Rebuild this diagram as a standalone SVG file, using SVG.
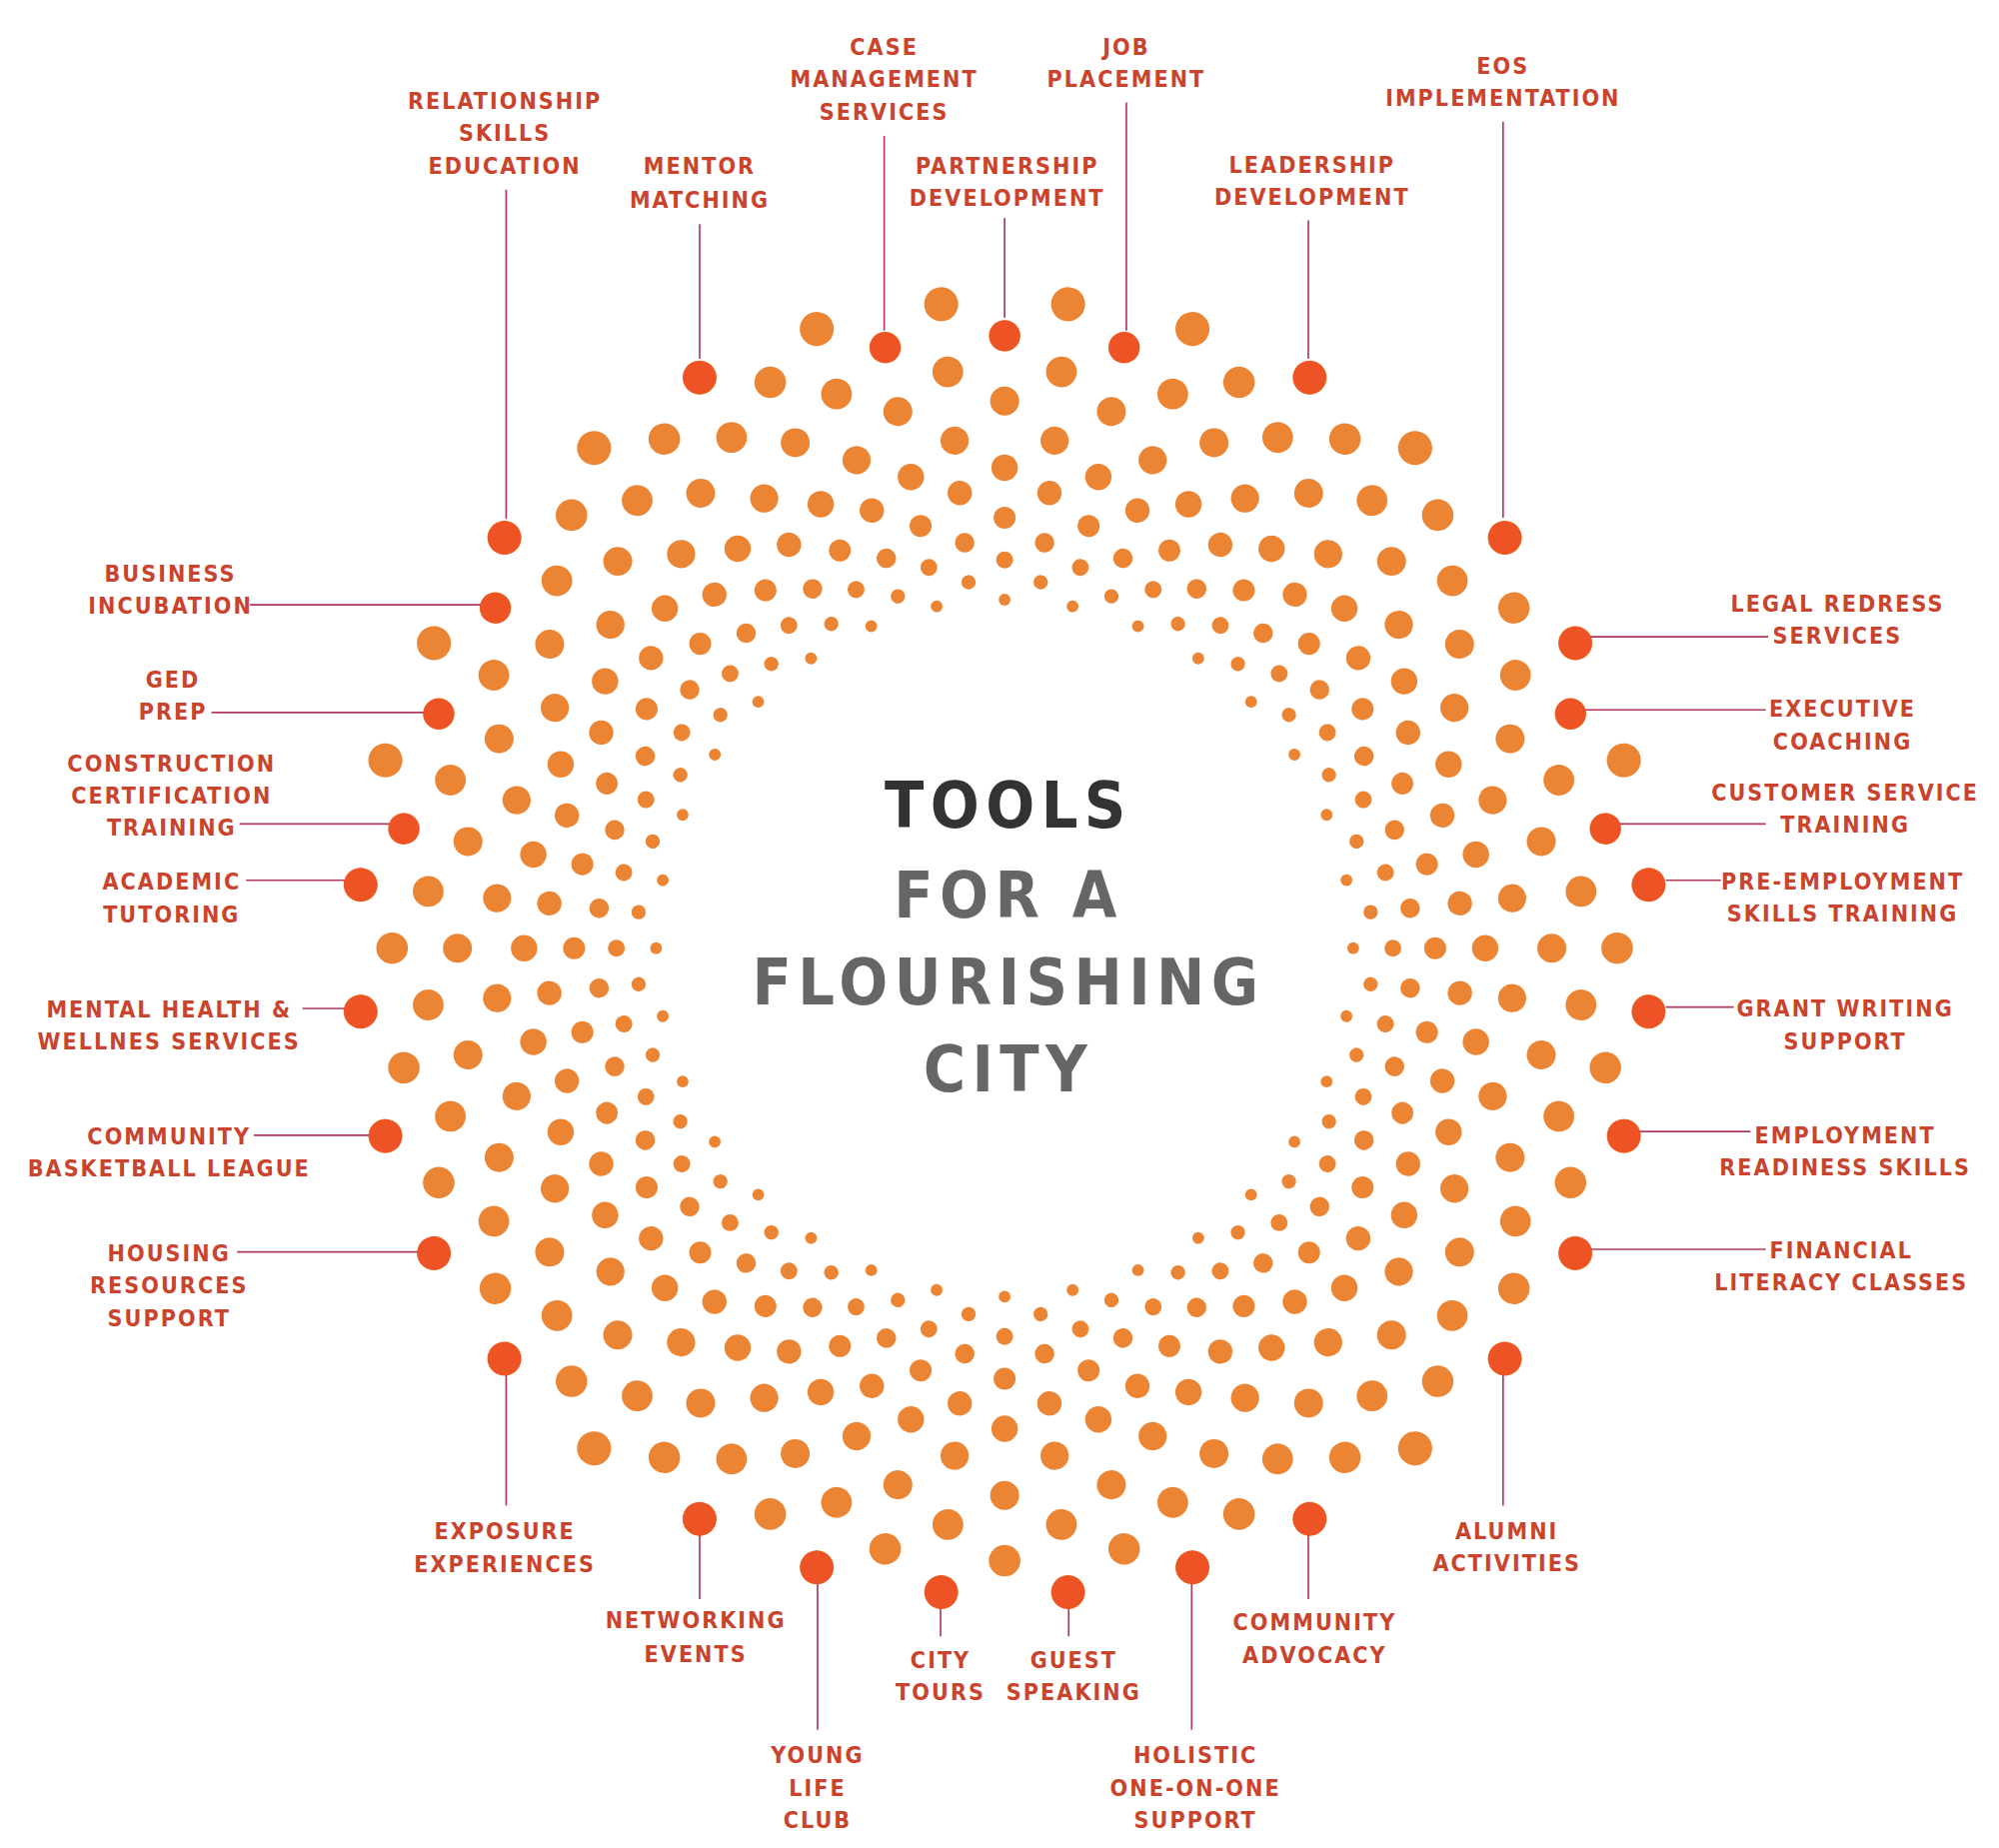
<svg xmlns="http://www.w3.org/2000/svg" xmlns:xlink="http://www.w3.org/1999/xlink" width="2000" height="1849" viewBox="0 0 2000 1849">
<style>
.o{fill:#eb8433}
.r{fill:#ee5326}
.t{font-family:"DejaVu Sans Condensed","DejaVu Sans",sans-serif;font-weight:bold;font-size:18px;letter-spacing:1.6px;fill:#c9432d;text-anchor:middle}
.h{font-family:"DejaVu Sans Condensed","DejaVu Sans",sans-serif;font-weight:bold;font-size:50px;letter-spacing:5px;text-anchor:middle}
#connectors line{stroke:#b03a5b;stroke-width:1.3}
</style>
<defs>
<g id="sa" class="o">
<circle cx="0" cy="-478" r="12.3"/><circle cx="0" cy="-427" r="11.3"/><circle cx="0" cy="-375" r="10.3"/><circle cx="0" cy="-336" r="8.6"/><circle cx="0" cy="-303" r="6.6"/><circle cx="0" cy="-272" r="4.6"/>
</g>
<g id="sb" class="o">
<circle cx="0" cy="-505" r="13.3"/><circle cx="0" cy="-452" r="12"/><circle cx="0" cy="-398" r="11"/><circle cx="0" cy="-357" r="9.5"/><circle cx="0" cy="-318" r="7.6"/><circle cx="0" cy="-287" r="5.6"/>
</g>
<circle id="ra" class="r" cx="0" cy="-478" r="12"/>
<circle id="rb" class="r" cx="0" cy="-505" r="13"/>
</defs>
<rect width="2000" height="1849" fill="#ffffff"/>
<g transform="scale(1.28205)">
<g id="dots" transform="translate(784 740)">
<use xlink:href="#sa" transform="rotate(0)"/><use xlink:href="#sa" transform="rotate(11.25)"/><use xlink:href="#sa" transform="rotate(22.5)"/><use xlink:href="#sa" transform="rotate(33.75)"/><use xlink:href="#sa" transform="rotate(45)"/><use xlink:href="#sa" transform="rotate(56.25)"/><use xlink:href="#sa" transform="rotate(67.5)"/><use xlink:href="#sa" transform="rotate(78.75)"/><use xlink:href="#sa" transform="rotate(90)"/><use xlink:href="#sa" transform="rotate(101.25)"/><use xlink:href="#sa" transform="rotate(112.5)"/><use xlink:href="#sa" transform="rotate(123.75)"/><use xlink:href="#sa" transform="rotate(135)"/><use xlink:href="#sa" transform="rotate(146.25)"/><use xlink:href="#sa" transform="rotate(157.5)"/><use xlink:href="#sa" transform="rotate(168.75)"/><use xlink:href="#sa" transform="rotate(180)"/><use xlink:href="#sa" transform="rotate(191.25)"/><use xlink:href="#sa" transform="rotate(202.5)"/><use xlink:href="#sa" transform="rotate(213.75)"/><use xlink:href="#sa" transform="rotate(225)"/><use xlink:href="#sa" transform="rotate(236.25)"/><use xlink:href="#sa" transform="rotate(247.5)"/><use xlink:href="#sa" transform="rotate(258.75)"/><use xlink:href="#sa" transform="rotate(270)"/><use xlink:href="#sa" transform="rotate(281.25)"/><use xlink:href="#sa" transform="rotate(292.5)"/><use xlink:href="#sa" transform="rotate(303.75)"/><use xlink:href="#sa" transform="rotate(315)"/><use xlink:href="#sa" transform="rotate(326.25)"/><use xlink:href="#sa" transform="rotate(337.5)"/><use xlink:href="#sa" transform="rotate(348.75)"/>
<use xlink:href="#sb" transform="rotate(5.625)"/><use xlink:href="#sb" transform="rotate(16.875)"/><use xlink:href="#sb" transform="rotate(28.125)"/><use xlink:href="#sb" transform="rotate(39.375)"/><use xlink:href="#sb" transform="rotate(50.625)"/><use xlink:href="#sb" transform="rotate(61.875)"/><use xlink:href="#sb" transform="rotate(73.125)"/><use xlink:href="#sb" transform="rotate(84.375)"/><use xlink:href="#sb" transform="rotate(95.625)"/><use xlink:href="#sb" transform="rotate(106.875)"/><use xlink:href="#sb" transform="rotate(118.125)"/><use xlink:href="#sb" transform="rotate(129.375)"/><use xlink:href="#sb" transform="rotate(140.625)"/><use xlink:href="#sb" transform="rotate(151.875)"/><use xlink:href="#sb" transform="rotate(163.125)"/><use xlink:href="#sb" transform="rotate(174.375)"/><use xlink:href="#sb" transform="rotate(185.625)"/><use xlink:href="#sb" transform="rotate(196.875)"/><use xlink:href="#sb" transform="rotate(208.125)"/><use xlink:href="#sb" transform="rotate(219.375)"/><use xlink:href="#sb" transform="rotate(230.625)"/><use xlink:href="#sb" transform="rotate(241.875)"/><use xlink:href="#sb" transform="rotate(253.125)"/><use xlink:href="#sb" transform="rotate(264.375)"/><use xlink:href="#sb" transform="rotate(275.625)"/><use xlink:href="#sb" transform="rotate(286.875)"/><use xlink:href="#sb" transform="rotate(298.125)"/><use xlink:href="#sb" transform="rotate(309.375)"/><use xlink:href="#sb" transform="rotate(320.625)"/><use xlink:href="#sb" transform="rotate(331.875)"/><use xlink:href="#sb" transform="rotate(343.125)"/><use xlink:href="#sb" transform="rotate(354.375)"/>
</g>
<g id="connectors">
<line x1="395" y1="148" x2="395" y2="405"/>
<line x1="546" y1="175" x2="546" y2="280"/>
<line x1="690" y1="106" x2="690" y2="258"/>
<line x1="784" y1="170" x2="784" y2="248"/>
<line x1="879" y1="80" x2="879" y2="258"/>
<line x1="1021" y1="172" x2="1021" y2="280"/>
<line x1="1173" y1="95" x2="1173" y2="404"/>
<line x1="195" y1="472" x2="376" y2="472"/>
<line x1="165" y1="556" x2="331" y2="556"/>
<line x1="187" y1="643" x2="304" y2="643"/>
<line x1="192" y1="687" x2="270" y2="687"/>
<line x1="236" y1="787" x2="270" y2="787"/>
<line x1="198" y1="886" x2="288" y2="886"/>
<line x1="185" y1="977" x2="327" y2="977"/>
<line x1="1241" y1="497" x2="1380" y2="497"/>
<line x1="1236" y1="554" x2="1378" y2="554"/>
<line x1="1264" y1="643" x2="1378" y2="643"/>
<line x1="1300" y1="687" x2="1343" y2="687"/>
<line x1="1300" y1="786" x2="1353" y2="786"/>
<line x1="1279" y1="883" x2="1366" y2="883"/>
<line x1="1241" y1="975" x2="1378" y2="975"/>
<line x1="395" y1="1070" x2="395" y2="1175"/>
<line x1="546" y1="1195" x2="546" y2="1248"/>
<line x1="638" y1="1232" x2="638" y2="1350"/>
<line x1="734" y1="1251" x2="734" y2="1277"/>
<line x1="834" y1="1251" x2="834" y2="1277"/>
<line x1="930" y1="1232" x2="930" y2="1350"/>
<line x1="1021" y1="1195" x2="1021" y2="1248"/>
<line x1="1173" y1="1069" x2="1173" y2="1175"/>
</g>
<g id="highlights" transform="translate(784 740)">
<use xlink:href="#ra" transform="rotate(0)"/><use xlink:href="#ra" transform="rotate(11.25)"/><use xlink:href="#ra" transform="rotate(-11.25)"/><use xlink:href="#ra" transform="rotate(-56.25)"/><use xlink:href="#ra" transform="rotate(-67.5)"/><use xlink:href="#ra" transform="rotate(-78.75)"/><use xlink:href="#ra" transform="rotate(78.75)"/><use xlink:href="#ra" transform="rotate(67.5)"/>
<use xlink:href="#rb" transform="rotate(28.125)"/><use xlink:href="#rb" transform="rotate(-28.125)"/><use xlink:href="#rb" transform="rotate(50.625)"/><use xlink:href="#rb" transform="rotate(-50.625)"/><use xlink:href="#rb" transform="rotate(61.875)"/>
<use xlink:href="#rb" transform="rotate(-84.375)"/><use xlink:href="#rb" transform="rotate(-95.625)"/><use xlink:href="#rb" transform="rotate(-106.875)"/><use xlink:href="#rb" transform="rotate(-118.125)"/><use xlink:href="#rb" transform="rotate(-129.375)"/><use xlink:href="#rb" transform="rotate(-151.875)"/><use xlink:href="#rb" transform="rotate(-163.125)"/><use xlink:href="#rb" transform="rotate(-174.375)"/>
<use xlink:href="#rb" transform="rotate(174.375)"/><use xlink:href="#rb" transform="rotate(163.125)"/><use xlink:href="#rb" transform="rotate(151.875)"/><use xlink:href="#rb" transform="rotate(129.375)"/><use xlink:href="#rb" transform="rotate(118.125)"/><use xlink:href="#rb" transform="rotate(106.875)"/><use xlink:href="#rb" transform="rotate(95.625)"/><use xlink:href="#rb" transform="rotate(84.375)"/>
</g>
<g id="title">
<text class="h" x="787" y="646" fill="#333333">TOOLS</text>
<text class="h" x="787" y="716" fill="#666666">FOR A</text>
<text class="h" x="787" y="784" fill="#666666">FLOURISHING</text>
<text class="h" x="787" y="852" fill="#666666">CITY</text>
</g>
<g id="labels">
<g id="n1"><text class="t" x="394" y="85">RELATIONSHIP</text><text class="t" x="394" y="110">SKILLS</text><text class="t" x="394" y="136">EDUCATION</text></g>
<g id="n2"><text class="t" x="546" y="136">MENTOR</text><text class="t" x="546" y="162">MATCHING</text></g>
<g id="n3"><text class="t" x="690" y="43">CASE</text><text class="t" x="690" y="68">MANAGEMENT</text><text class="t" x="690" y="94">SERVICES</text></g>
<g id="n4"><text class="t" x="786" y="136">PARTNERSHIP</text><text class="t" x="786" y="161">DEVELOPMENT</text></g>
<g id="n5"><text class="t" x="879" y="43">JOB</text><text class="t" x="879" y="68">PLACEMENT</text></g>
<g id="n6"><text class="t" x="1024" y="135">LEADERSHIP</text><text class="t" x="1024" y="160">DEVELOPMENT</text></g>
<g id="n7"><text class="t" x="1173" y="58">EOS</text><text class="t" x="1173" y="83">IMPLEMENTATION</text></g>
<g id="n8"><text class="t" x="133" y="454">BUSINESS</text><text class="t" x="133" y="479">INCUBATION</text></g>
<g id="n9"><text class="t" x="135" y="537">GED</text><text class="t" x="135" y="562">PREP</text></g>
<g id="n10"><text class="t" x="134" y="602">CONSTRUCTION</text><text class="t" x="134" y="627">CERTIFICATION</text><text class="t" x="134" y="652">TRAINING</text></g>
<g id="n11"><text class="t" x="134" y="694">ACADEMIC</text><text class="t" x="134" y="720">TUTORING</text></g>
<g id="n12"><text class="t" x="132" y="794">MENTAL HEALTH &amp;</text><text class="t" x="132" y="819">WELLNES SERVICES</text></g>
<g id="n13"><text class="t" x="132" y="893">COMMUNITY</text><text class="t" x="132" y="918">BASKETBALL LEAGUE</text></g>
<g id="n14"><text class="t" x="132" y="984">HOUSING</text><text class="t" x="132" y="1009">RESOURCES</text><text class="t" x="132" y="1035">SUPPORT</text></g>
<g id="n15"><text class="t" x="1434" y="477">LEGAL REDRESS</text><text class="t" x="1434" y="502">SERVICES</text></g>
<g id="n16"><text class="t" x="1438" y="559">EXECUTIVE</text><text class="t" x="1438" y="585">COACHING</text></g>
<g id="n17"><text class="t" x="1440" y="625">CUSTOMER SERVICE</text><text class="t" x="1440" y="650">TRAINING</text></g>
<g id="n18"><text class="t" x="1438" y="694">PRE-EMPLOYMENT</text><text class="t" x="1438" y="719">SKILLS TRAINING</text></g>
<g id="n19"><text class="t" x="1440" y="793">GRANT WRITING</text><text class="t" x="1440" y="819">SUPPORT</text></g>
<g id="n20"><text class="t" x="1440" y="892">EMPLOYMENT</text><text class="t" x="1440" y="917">READINESS SKILLS</text></g>
<g id="n21"><text class="t" x="1437" y="982">FINANCIAL</text><text class="t" x="1437" y="1007">LITERACY CLASSES</text></g>
<g id="n22"><text class="t" x="394" y="1201">EXPOSURE</text><text class="t" x="394" y="1227">EXPERIENCES</text></g>
<g id="n23"><text class="t" x="543" y="1271">NETWORKING</text><text class="t" x="543" y="1297">EVENTS</text></g>
<g id="n24"><text class="t" x="638" y="1376">YOUNG</text><text class="t" x="638" y="1402">LIFE</text><text class="t" x="638" y="1427">CLUB</text></g>
<g id="n25"><text class="t" x="734" y="1302">CITY</text><text class="t" x="734" y="1327">TOURS</text></g>
<g id="n26"><text class="t" x="838" y="1302">GUEST</text><text class="t" x="838" y="1327">SPEAKING</text></g>
<g id="n27"><text class="t" x="933" y="1376">HOLISTIC</text><text class="t" x="933" y="1402">ONE-ON-ONE</text><text class="t" x="933" y="1427">SUPPORT</text></g>
<g id="n28"><text class="t" x="1026" y="1272">COMMUNITY</text><text class="t" x="1026" y="1298">ADVOCACY</text></g>
<g id="n29"><text class="t" x="1176" y="1201">ALUMNI</text><text class="t" x="1176" y="1226">ACTIVITIES</text></g>
</g>
</g>
</svg>
